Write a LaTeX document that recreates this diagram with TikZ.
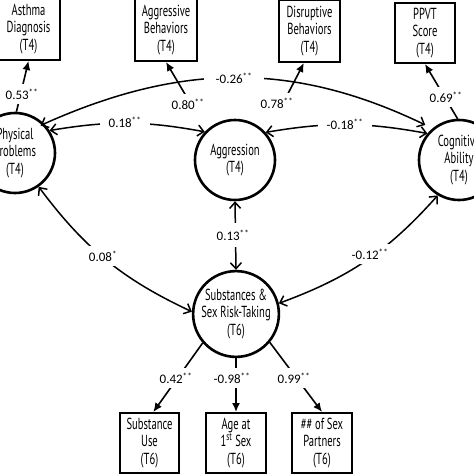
\documentclass[tikz,border=0pt]{standalone}
\usepackage{fontspec}
\setmainfont{Carlito}
\newfontfamily\nodefont[FakeStretch=0.66]{PT Sans}
\usetikzlibrary{arrows.meta}
\begin{document}
\begin{tikzpicture}[x=1pt,y=-1pt,
  nodetext/.style={font=\nodefont\fontsize{16}{17.8}\selectfont},
  lat/.style={circle,draw,line width=2.6pt,minimum size=80pt,inner sep=0pt,align=center,nodetext},
  obs/.style={rectangle,draw,line width=2pt,minimum width=61pt,minimum height=61pt,inner sep=0pt,align=center,nodetext},
  cause/.style={line width=1.6pt,-{Latex[length=9pt,width=8pt]}},
  corr/.style={line width=1.5pt,{Straight Barb[length=6pt,width=11pt]}-{Straight Barb[length=6pt,width=11pt]}},
  coef/.style={fill=white,inner xsep=9pt,inner ysep=5pt,font=\fontsize{13}{13}\selectfont}
]
\useasboundingbox (0,0) rectangle (474,474);
\clip (0,0) rectangle (474,474);

% observed indicators (top)
\node[obs,minimum width=63pt,minimum height=62pt] (asthma) at (28.5,29) {Asthma\\Diagnosis\\(T4)};
\node[obs,minimum width=62pt,minimum height=62pt] (aggbox) at (166,30) {Aggressive\\Behaviors\\(T4)};
\node[obs,minimum width=61pt,minimum height=62pt] (disbox) at (309.5,31) {Disruptive\\Behaviors\\(T4)};
\node[obs,minimum width=60pt,minimum height=60pt] (ppvt) at (425,33) {PPVT\\Score\\(T4)};

% latent variables
\node[lat] (phys) at (15,153) {Physical\\Problems\\(T4)};
\node[lat] (aggr) at (235,160) {Aggression\\(T4)};
\node[lat] (cog) at (459,160) {Cognitive\\Ability\\(T4)};
\node[lat,minimum size=84pt] (subst) at (236,314) {Substances \&\\Sex Risk-Taking\\(T6)};

% observed indicators (bottom)
\node[obs,minimum width=59pt,minimum height=60pt] (subbox) at (149.5,443) {Substance\\Use\\(T6)};
\node[obs,minimum width=60pt,minimum height=60pt] (agebox) at (236,443) {Age at\\1\textsuperscript{st} Sex\\(T6)};
\node[obs,minimum width=60pt,minimum height=60pt] (sexbox) at (322,443) {\#\# of Sex\\Partners\\(T6)};

% loadings
\draw[cause] (phys.88) -- (asthma.south);
\draw[cause,shorten <=22pt] (aggr.134) -- (aggbox.south);
\draw[cause,shorten <=25pt] (aggr.39) -- (disbox.-100);
\draw[cause] (cog.92) -- (ppvt.south);
\draw[cause] (subst.-139) -- (subbox.83);
\draw[cause] (subst.south) -- (agebox.north);
\draw[cause] (subst.-40) -- (sexbox.north);

% correlations
\draw[corr,shorten <=-4pt,shorten >=8pt] (phys.45) to[bend left=25] (cog.130);
\draw[corr] (phys.33) to[bend left=10] (aggr.137);
\draw[corr] (aggr.42) to[bend left=10] (cog.140);
\draw[corr] (aggr.south) -- (subst.north);
\draw[corr] (phys.-55) to[bend right=14] (subst.177);
\draw[corr] (subst.14) to[bend right=14] (cog.-121);

% coefficients
\node[coef] (c053) at (22,94) {0.53\textsuperscript{**}};
\node[coef] (c080) at (188,104) {0.80\textsuperscript{**}};
\node[coef] (c078) at (277,103) {0.78\textsuperscript{**}};
\node[coef] (c069) at (446,97) {0.69\textsuperscript{**}};
\node[coef,inner xsep=12pt] (c026) at (234,78) {-0.26\textsuperscript{**}};
\node[coef] (c018a) at (125,122) {0.18\textsuperscript{**}};
\node[coef] (c018b) at (345,124) {-0.18\textsuperscript{**}};
\node[coef,inner ysep=7pt] (c013) at (233,235) {0.13\textsuperscript{**}};
\node[coef] (c008) at (103,256) {0.08\textsuperscript{*}};
\node[coef] (c012) at (370,254) {-0.12\textsuperscript{**}};
\node[coef] (c042) at (176,378) {0.42\textsuperscript{**}};
\node[coef] (c098) at (232,378) {-0.98\textsuperscript{**}};
\node[coef] (c099) at (294,378) {0.99\textsuperscript{**}};
\end{tikzpicture}
\end{document}
